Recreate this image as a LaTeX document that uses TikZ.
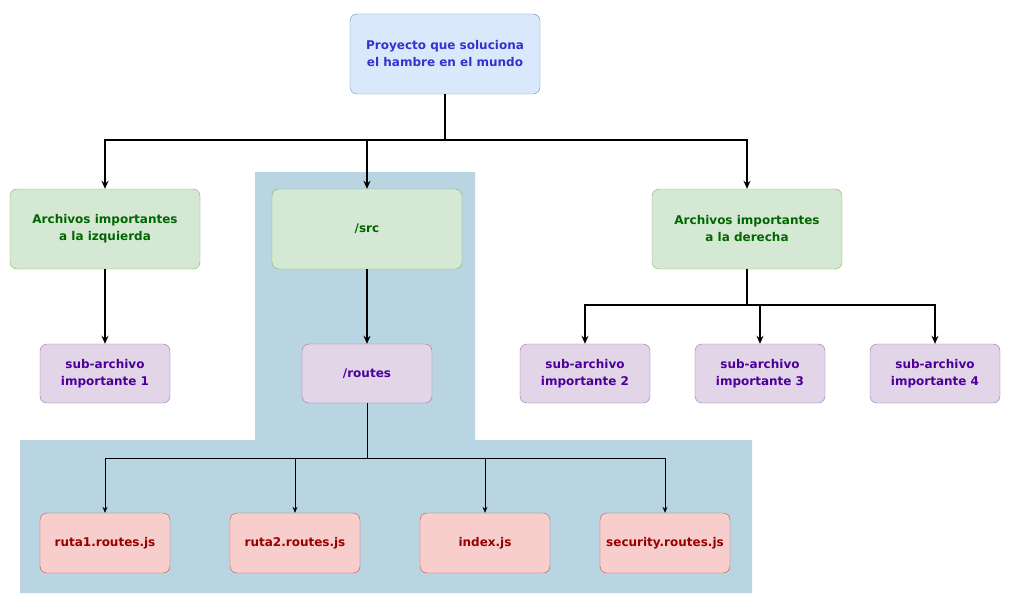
\documentclass[tikz,border=0pt]{standalone}
\usepackage{fontspec}
\setmainfont{DejaVu Sans}
\usetikzlibrary{arrows.meta}
\definecolor{bfill}{HTML}{DAE8FC}\definecolor{bdraw}{HTML}{6C8EBF}\definecolor{btext}{HTML}{3333CC}
\definecolor{gfill}{HTML}{D5E8D4}\definecolor{gdraw}{HTML}{82B366}\definecolor{gtext}{HTML}{006600}
\definecolor{pfill}{HTML}{E1D5E7}\definecolor{pdraw}{HTML}{9673A6}\definecolor{ptext}{HTML}{4C0099}
\definecolor{rfill}{HTML}{F8CECC}\definecolor{rdraw}{HTML}{B85450}\definecolor{rtext}{HTML}{990000}
\definecolor{bg}{HTML}{B9D5E1}
\begin{document}
\begin{tikzpicture}[x=1pt,y=-1pt,
  box/.style={rounded corners=7pt,inner sep=0pt,align=center,font=\fontsize{12}{17}\selectfont\bfseries},
  big/.style={box,minimum width=190pt,minimum height=80pt},
  small/.style={box,minimum width=130pt,minimum height=59pt},
  blue/.style={big,fill=bfill,draw=bdraw,text=btext},
  green/.style={big,fill=gfill,draw=gdraw,text=gtext},
  purp/.style={small,fill=pfill,draw=pdraw,text=ptext},
  red/.style={small,minimum height=60pt,fill=rfill,draw=rdraw,text=rtext},
  thick arr/.style={draw,line width=1.5pt,-{Stealth[length=8pt,width=7pt]}},
  thin arr/.style={draw,line width=0.8pt,-{Stealth[length=6pt,width=5pt]}}]
\useasboundingbox (0,0) rectangle (1011,607);
\fill[white] (0,0) rectangle (1011,607);
\fill[bg] (255,172) -- (475,172) -- (475,440) -- (752,440) -- (752,593) -- (20,593) -- (20,440) -- (255,440) -- cycle;
\node[blue] (top) at (445,54) {Proyecto que soluciona\\el hambre en el mundo};
\node[green] (left) at (105,229) {Archivos importantes\\a la izquierda};
\node[green] (src) at (367,229) {/src};
\node[green] (right) at (747,229) {Archivos importantes\\a la derecha};
\node[purp] (s1) at (105,373.5) {sub-archivo\\importante 1};
\node[purp] (routes) at (367,373.5) {/routes};
\node[purp] (s2) at (585,373.5) {sub-archivo\\importante 2};
\node[purp] (s3) at (760,373.5) {sub-archivo\\importante 3};
\node[purp] (s4) at (935,373.5) {sub-archivo\\importante 4};
\node[red] (r1) at (105,543) {ruta1.routes.js};
\node[red] (r2) at (295,543) {ruta2.routes.js};
\node[red] (r3) at (485,543) {index.js};
\node[red] (r4) at (665,543) {security.routes.js};
\foreach \t in {left,src,right} \draw[thick arr] (top.south) -- ++(0,46) -| (\t.north);
\draw[thick arr] (left) -- (s1);
\draw[thick arr] (src) -- (routes);
\foreach \t in {s2,s3,s4} \draw[thick arr] (right.south) -- ++(0,36) -| (\t.north);
\foreach \t in {r1,r2,r3,r4} \draw[thin arr] (routes.south) -- ++(0,55) -| (\t.north);
\end{tikzpicture}
\end{document}
